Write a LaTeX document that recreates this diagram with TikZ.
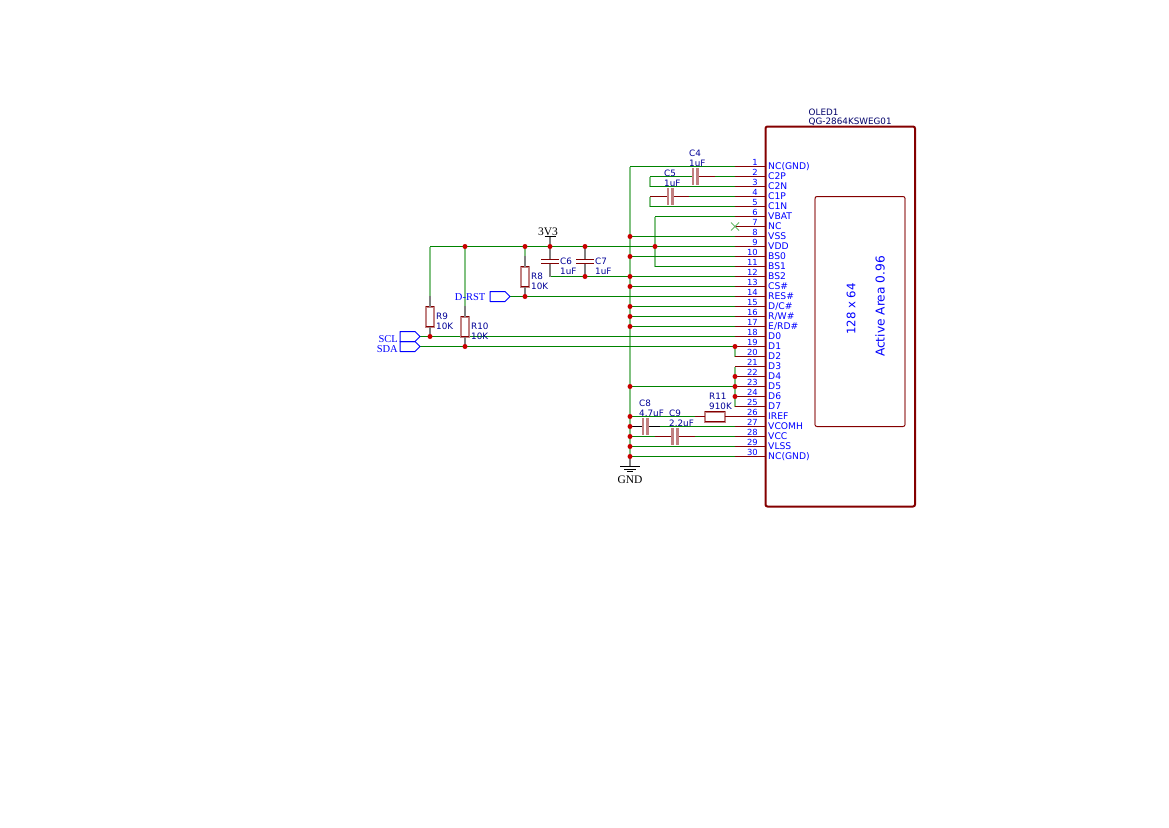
\documentclass[tikz,border=0pt]{standalone}
\usepackage{fontspec}
\setmainfont{Liberation Serif}
\setsansfont{DejaVu Sans}
\definecolor{wirecol}{RGB}{0,132,0}
\definecolor{partcol}{RGB}{132,0,0}
\definecolor{dotcol}{RGB}{200,0,0}
\definecolor{textcol}{RGB}{0,0,255}
\definecolor{refcol}{RGB}{0,0,150}
\tikzset{
  wire/.style={draw=wirecol, line width=1pt},
  vwire/.style={draw=wirecol!50!white, line width=2pt},
  pinline/.style={draw=partcol, line width=1pt},
  lead/.style={draw=black, line width=1pt},
  vlead/.style={draw=black!50, line width=2pt},
  plate/.style={draw=partcol, line width=1.6pt},
  vplate/.style={draw=partcol!50!white, line width=2.6pt},
  resbody/.style={draw=partcol!50!white, line width=2pt, inner sep=0pt, outer sep=0pt},
  resv/.style={resbody, minimum width=8pt, minimum height=20pt},
  resh/.style={resbody, minimum width=20pt, minimum height=10pt},
  junction/.style={fill=dotcol, draw=none},
  pinname/.style={text=textcol, font=\sffamily\fontsize{9.2}{9.2}\selectfont, anchor=base west, inner sep=0pt},
  pinnum/.style={text=textcol, font=\sffamily\fontsize{8.4}{8.4}\selectfont, anchor=base east, inner sep=0pt},
  partlabel/.style={text=refcol, font=\sffamily\fontsize{8.8}{8.8}\selectfont, anchor=base west, inner sep=0pt},
  netlabel/.style={text=textcol, font=\fontsize{10.5}{10.5}\selectfont, anchor=base east, inner sep=0pt},
  powerlabel/.style={text=black, font=\fontsize{11.5}{11.5}\selectfont, anchor=base, inner sep=0pt},
  hierlabel/.style={draw=textcol, line width=1pt, line join=round}
}
\begin{document}
\begin{tikzpicture}[x=1pt,y=-1pt]
\useasboundingbox (0,0) rectangle (1169,827);

% pin ends on the display
\foreach \n/\lab in {1/NC(GND),2/C2P,3/C2N,4/C1P,5/C1N,6/VBAT,7/NC,8/VSS,9/VDD,10/BS0,
  11/BS1,12/BS2,13/CS\#,14/RES\#,15/{D/C\#},16/{R/W\#},17/{E/RD\#},18/D0,19/D1,20/D2,
  21/D3,22/D4,23/D5,24/D6,25/D7,26/IREF,27/VCOMH,28/VCC,29/VLSS,30/NC(GND)}{
  \coordinate (W\n) at (735,{166.5+10*(\n-1)});
  \coordinate (E\n) at (765,{166.5+10*(\n-1)});
  \node[pinname] (name\n) at (768,{169.5+10*(\n-1)}) {\lab};
  \node[pinnum] (num\n) at (758,{165+10*(\n-1)}) {\n};
}

\coordinate (BUS) at (630,0);
\coordinate (VBT) at (655,0);
\coordinate (CP) at (650,0);

% wires
\draw[vwire] (BUS|-W1)--(BUS|-W30);
\draw[vwire] (CP|-W2)--(CP|-W3);
\draw[vwire] (CP|-W4)--(CP|-W5);
\draw[vwire] (VBT|-W6)--(VBT|-W11);
\draw[vwire] (W19)--(W20);
\draw[vwire] (W21)--(W25);
\draw[vwire] (430,246.5)--(430,296);
\draw[vwire] (465,246.5)--(465,306);
\draw[vwire] (525,246.5)--(525,256);
\draw[wire] (BUS|-W1)--(W1);
\draw[wire] (CP|-W3)--(W3);
\draw[wire] (CP|-W2)--(692.5,176.5);
\draw[wire] (715,176.5)--(W2);
\draw[wire] (CP|-W5)--(W5);
\draw[wire] (689,196.5)--(W4);
\draw[wire] (VBT|-W6)--(W6);
\draw[wire] (VBT|-W11)--(W11);
\foreach \n in {8,10,12,13,15,16,17,23,29,30}{
  \draw[wire] (BUS|-W\n)--(W\n);
}
\draw[wire] (430,246.5)--(W9);
\draw[wire] (550,276.5)--(BUS|-W12);
\draw[wire] (510,296.5)--(W14);
\draw[wire] (420,336.5)--(W18);
\draw[wire] (420,346.5)--(W19);
\draw[wire] (BUS|-W26)--(695,416.5);
\draw[wire] (660,426.5)--(W27);
\draw[wire] (BUS|-W28)--(655,436.5);
\draw[wire] (695,436.5)--(W28);

% pins
\foreach \n in {1,...,30}{
  \draw[pinline] (W\n)--(E\n);
}

% display outline
\draw[draw=partcol, line width=2pt, rounded corners=2pt] (765.5,126.5) rectangle (915,506.5);
\draw[draw=partcol, line width=1pt, rounded corners=2pt] (815,196.5) rectangle (905,426.5);
\draw[draw=partcol!50!white, line width=2pt] (815,198.5)--(815,424.5);
\draw[draw=partcol!50!white, line width=2pt] (905,198.5)--(905,424.5);
\node[partlabel, text=black!30!refcol] (oled) at (808.5,115) {OLED1};
\node[partlabel, text=black!30!refcol] (oledval) at (808.5,124) {QG-2864KSWEG01};
\node[text=textcol, font=\sffamily\fontsize{11.7}{11.7}\selectfont, rotate=90, inner sep=0pt] (res) at (851,309) {128 x 64};
\node[text=textcol, font=\sffamily\fontsize{12.2}{12.2}\selectfont, rotate=90, inner sep=0pt] (area) at (880,306.5) {Active Area 0.96};

% no connect
\draw[wirecol!60!white, line width=1pt] (731,222.5)--(739,230.5) (731,230.5)--(739,222.5);

% C4 C5
\draw[pinline] (697,176.5)--(715,176.5);
\draw[vplate] (693,168)--(693,185);
\draw[vplate] (697.5,168)--(697.5,185);
\draw[pinline] (CP|-W4)--(668,196.5);
\draw[pinline] (672,196.5)--(689,196.5);
\draw[vplate] (668,188)--(668,205);
\draw[vplate] (672.5,188)--(672.5,205);

% C8 C9 R11
\draw[lead] (BUS|-W27)--(643,426.5);
\draw[lead] (647.5,426.5)--(660,426.5);
\draw[vplate] (643,418)--(643,435);
\draw[vplate] (647.5,418)--(647.5,435);
\draw[pinline] (655,436.5)--(672.5,436.5);
\draw[pinline] (677.5,436.5)--(695,436.5);
\draw[vplate] (672.5,428)--(672.5,445);
\draw[vplate] (677.5,428)--(677.5,445);
\node[resh] (R11) at (715,416.5) {};
\draw[pinline] (695,416.5)--(R11.west);
\draw[pinline] (R11.east)--(W26);

% pull ups
\node[resv] (R8) at (525,276.5) {};
\node[resv] (R9) at (430,316.5) {};
\node[resv] (R10) at (465,326.5) {};
\foreach \r in {R8,R9,R10,R11}{
  \draw[pinline] (\r.north west)--(\r.north east);
  \draw[pinline] (\r.south west)--(\r.south east);
}
\coordinate (R8b) at (525,296.5);
\coordinate (R9b) at (430,336.5);
\coordinate (R10b) at (465,346.5);
\draw[vlead] (525,256)--(R8.north);
\draw[vlead] (R8.south)--(R8b);
\draw[vlead] (430,296)--(R9.north);
\draw[vlead] (R9.south)--(R9b);
\draw[vlead] (465,306)--(R10.north);
\draw[vlead] (R10.south)--(R10b);

% C6 C7 and 3V3
\coordinate (VCC) at (550,236.5);
\draw[vlead] (VCC)--(550,259);
\draw[vlead] (550,263.5)--(550,276.5);
\draw[vlead] (585,246.5)--(585,259);
\draw[vlead] (585,263.5)--(585,276.5);
\draw[plate] (541,259.5)--(559,259.5);
\draw[plate] (541,263.5)--(559,263.5);
\draw[plate] (576,259.5)--(594,259.5);
\draw[plate] (576,263.5)--(594,263.5);
\draw[lead] (544.5,236.5)--(555.5,236.5);
\node[powerlabel] (v3) at (548,235) {3V3};

% GND
\draw[vlead] (BUS|-W30)--(630,466);
\draw[lead] (620,466.5)--(640,466.5);
\draw[lead] (624,469)--(636,469);
\draw[lead] (627,471.5)--(633,471.5);
\node[powerlabel] (gnd) at (630,483) {GND};

% junctions
\foreach \n in {8,10,12,13,15,16,17,23,26,27,28,29,30}{
  \fill[junction] (BUS|-W\n) circle (2.5);
}
\foreach \n in {19,22,23,24}{
  \fill[junction] (W\n) circle (2.5);
}
\fill[junction] (VBT|-W9) circle (2.5);
\foreach \x in {465,525,550,585}{
  \fill[junction] (\x,246.5) circle (2.5);
}
\fill[junction] (585,276.5) circle (2.5);
\fill[junction] (R8b) circle (2.5);
\fill[junction] (R9b) circle (2.5);
\fill[junction] (R10b) circle (2.5);

% net labels
\draw[hierlabel] (490,291.5)--(505,291.5)--(510,296.5)--(505,301.5)--(490,301.5)--cycle;
\draw[hierlabel] (400,331.5)--(415,331.5)--(420,336.5)--(415,341.5)--(400,341.5)--cycle;
\draw[hierlabel] (400,341.5)--(415,341.5)--(420,346.5)--(415,351.5)--(400,351.5)--cycle;
\node[netlabel] (rst) at (485.5,300) {D-RST};
\node[netlabel] (scl) at (398,342) {SCL};
\node[netlabel] (sda) at (398,352) {SDA};

% part labels
\foreach \ref/\val/\x/\y in {C4/1uF/689/156,C5/1uF/664/176,C6/1uF/560/264,C7/1uF/595/264,
  C8/4.7uF/639/406,C9/2.2uF/669/416,R8/10K/531/279,R9/10K/436/319,R10/10K/471/329,R11/910K/709/399}{
  \node[partlabel] (\ref ref) at (\x,\y) {\ref};
  \node[partlabel] (\ref val) at (\x,\y+10) {\val};
}
\end{tikzpicture}
\end{document}
